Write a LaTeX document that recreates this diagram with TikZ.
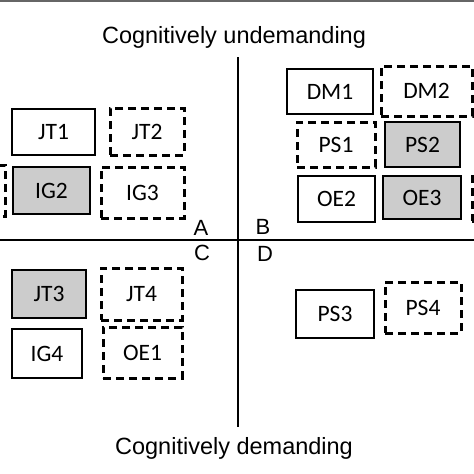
\documentclass[tikz,border=0pt]{standalone}
\usepackage{fontspec}
\setmainfont{Liberation Sans}
\newfontfamily\boxfont{Carlito}
\usepackage{tikz}

\begin{document}
\begin{tikzpicture}[x=1pt,y=-1pt,
		task/.style={draw=black, line width=1.5pt, inner sep=0pt, font=\boxfont\fontsize{23.5}{27}\selectfont},
		plain/.style={task, fill=white},
		shaded/.style={task, fill=gray!40},
		dashbox/.style={task, line width=3pt, dash pattern=on 8pt off 5pt},
		axislabel/.style={font=\fontsize{22}{26}\selectfont}]
		\useasboundingbox (0,0) rectangle (474,474);
		\clip (0,0) rectangle (474,474);
		\fill[fill=black!60] (0,0) rectangle (474,2);

		% --- axes ---
		\coordinate (top) at (237.5,57);
		\coordinate (bottom) at (237.5,427);
		\coordinate (left) at (0,240);
		\coordinate (right) at (474,240);
		\draw[line width=2pt] (top) -- (bottom);
		\draw[line width=2pt] (left) -- (right);

		\node[axislabel, font=\fontsize{23.5}{28}\selectfont] (undem) at (234,37) {Cognitively undemanding};
		\node[axislabel, font=\fontsize{23.5}{28}\selectfont] (dem) at (234,448) {Cognitively demanding};
		\node[axislabel] (qA) at (201,228) {A};
		\node[axislabel] (qB) at (263,227) {B};
		\node[axislabel] (qC) at (202,253) {C};
		\node[axislabel] (qD) at (265,254) {D};

		% --- A: top left ---
		\node[plain, minimum width=83pt, minimum height=46pt] (JT1) at (53.5,132) {JT1};
		\node[dashbox, minimum width=74pt, minimum height=47pt] (JT2) at (147,131.5) {JT2};
		\node[dashbox, minimum width=80pt, minimum height=51pt] (IG1) at (-35,190.5) {};
		\node[shaded, minimum width=77pt, minimum height=47pt] (IG2) at (51.5,190.5) {IG2};
		\node[dashbox, minimum width=83pt, minimum height=51pt] (IG3) at (142.5,192.5) {IG3};

		% --- B: top right ---
		\node[plain, minimum width=86pt, minimum height=45pt] (DM1) at (330,91.5) {DM1};
		\node[dashbox, minimum width=91pt, minimum height=50pt] (DM2) at (426.5,91) {DM2};
		\node[dashbox, minimum width=78pt, minimum height=45pt] (PS1) at (336,144.5) {PS1};
		\node[shaded, minimum width=75pt, minimum height=45pt] (PS2) at (422.5,144.5) {PS2};
		\node[plain, minimum width=77pt, minimum height=46pt] (OE2) at (336.5,199) {OE2};
		\node[shaded, minimum width=78pt, minimum height=43pt] (OE3) at (422,197.5) {OE3};
		\node[dashbox, minimum width=80pt, minimum height=47pt] (OE4) at (512,197.5) {};

		% --- C: bottom left ---
		\node[shaded, minimum width=74pt, minimum height=48pt] (JT3) at (49,294) {JT3};
		\node[dashbox, minimum width=81pt, minimum height=52pt] (JT4) at (141.5,294) {JT4};
		\node[plain, minimum width=70pt, minimum height=49pt] (IG4) at (47,353.5) {IG4};
		\node[dashbox, minimum width=79pt, minimum height=51pt] (OE1) at (142.5,352.5) {OE1};

		% --- D: bottom right ---
		\node[plain, minimum width=78pt, minimum height=48pt] (PS3) at (335,314) {PS3};
		\node[dashbox, minimum width=76pt, minimum height=51pt] (PS4) at (423,307.5) {PS4};
	\end{tikzpicture}
\end{document}
